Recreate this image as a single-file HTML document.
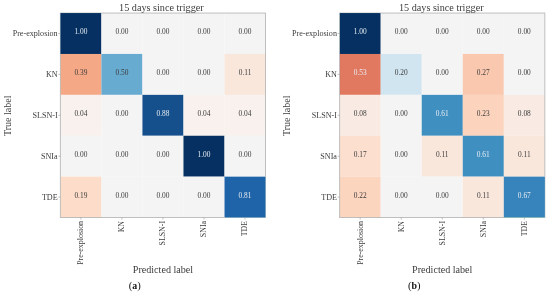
<!DOCTYPE html>
<html><head><meta charset="utf-8"><style>
html,body{margin:0;padding:0;background:#fff;}
body{width:550px;height:295px;overflow:hidden;}
svg{display:block;}
text{font-family:"Liberation Serif",serif;}
.c{font-size:7.4px;text-anchor:middle;}
.yt{font-size:8.1px;text-anchor:end;fill:#3c3c3c;}
.xt{font-size:7.9px;text-anchor:end;fill:#3c3c3c;}
.t{font-size:10.2px;text-anchor:middle;fill:#3c3c3c;}
.xl{font-size:10.1px;text-anchor:middle;fill:#3c3c3c;}
.yl{font-size:10.0px;text-anchor:middle;fill:#3c3c3c;}
.sub{font-size:10.6px;text-anchor:middle;fill:#111;}
</style></head>
<body><svg width="550" height="295" viewBox="0 0 550 295">
<rect x="60.35" y="13.05" width="41.09" height="40.95" fill="#053061"/>
<rect x="101.39" y="13.05" width="41.09" height="40.95" fill="#f4f4f4"/>
<rect x="142.43" y="13.05" width="41.09" height="40.95" fill="#f4f4f4"/>
<rect x="183.47" y="13.05" width="41.09" height="40.95" fill="#f4f4f4"/>
<rect x="224.51" y="13.05" width="41.09" height="40.95" fill="#f4f4f4"/>
<rect x="60.35" y="53.95" width="41.09" height="40.95" fill="#f5a886"/>
<rect x="101.39" y="53.95" width="41.09" height="40.95" fill="#68abd0"/>
<rect x="142.43" y="53.95" width="41.09" height="40.95" fill="#f4f4f4"/>
<rect x="183.47" y="53.95" width="41.09" height="40.95" fill="#f4f4f4"/>
<rect x="224.51" y="53.95" width="41.09" height="40.95" fill="#fae7dc"/>
<rect x="60.35" y="94.85" width="41.09" height="40.95" fill="#f8f1ed"/>
<rect x="101.39" y="94.85" width="41.09" height="40.95" fill="#f4f4f4"/>
<rect x="142.43" y="94.85" width="41.09" height="40.95" fill="#15508d"/>
<rect x="183.47" y="94.85" width="41.09" height="40.95" fill="#f8f1ed"/>
<rect x="224.51" y="94.85" width="41.09" height="40.95" fill="#f8f1ed"/>
<rect x="60.35" y="135.75" width="41.09" height="40.95" fill="#f4f4f4"/>
<rect x="101.39" y="135.75" width="41.09" height="40.95" fill="#f4f4f4"/>
<rect x="142.43" y="135.75" width="41.09" height="40.95" fill="#f4f4f4"/>
<rect x="183.47" y="135.75" width="41.09" height="40.95" fill="#053061"/>
<rect x="224.51" y="135.75" width="41.09" height="40.95" fill="#f4f4f4"/>
<rect x="60.35" y="176.65" width="41.09" height="40.95" fill="#fddcc9"/>
<rect x="101.39" y="176.65" width="41.09" height="40.95" fill="#f4f4f4"/>
<rect x="142.43" y="176.65" width="41.09" height="40.95" fill="#f4f4f4"/>
<rect x="183.47" y="176.65" width="41.09" height="40.95" fill="#f4f4f4"/>
<rect x="224.51" y="176.65" width="41.09" height="40.95" fill="#1f63a8"/>
<text x="80.87" y="34.10" class="c" fill="#e8edf3">1.00</text>
<text x="121.91" y="34.10" class="c" fill="#3c3c3c">0.00</text>
<text x="162.95" y="34.10" class="c" fill="#3c3c3c">0.00</text>
<text x="203.99" y="34.10" class="c" fill="#3c3c3c">0.00</text>
<text x="245.03" y="34.10" class="c" fill="#3c3c3c">0.00</text>
<text x="80.87" y="75.00" class="c" fill="#3c3c3c">0.39</text>
<text x="121.91" y="75.00" class="c" fill="#3c3c3c">0.50</text>
<text x="162.95" y="75.00" class="c" fill="#3c3c3c">0.00</text>
<text x="203.99" y="75.00" class="c" fill="#3c3c3c">0.00</text>
<text x="245.03" y="75.00" class="c" fill="#3c3c3c">0.11</text>
<text x="80.87" y="115.90" class="c" fill="#3c3c3c">0.04</text>
<text x="121.91" y="115.90" class="c" fill="#3c3c3c">0.00</text>
<text x="162.95" y="115.90" class="c" fill="#e8edf3">0.88</text>
<text x="203.99" y="115.90" class="c" fill="#3c3c3c">0.04</text>
<text x="245.03" y="115.90" class="c" fill="#3c3c3c">0.04</text>
<text x="80.87" y="156.80" class="c" fill="#3c3c3c">0.00</text>
<text x="121.91" y="156.80" class="c" fill="#3c3c3c">0.00</text>
<text x="162.95" y="156.80" class="c" fill="#3c3c3c">0.00</text>
<text x="203.99" y="156.80" class="c" fill="#e8edf3">1.00</text>
<text x="245.03" y="156.80" class="c" fill="#3c3c3c">0.00</text>
<text x="80.87" y="197.70" class="c" fill="#3c3c3c">0.19</text>
<text x="121.91" y="197.70" class="c" fill="#3c3c3c">0.00</text>
<text x="162.95" y="197.70" class="c" fill="#3c3c3c">0.00</text>
<text x="203.99" y="197.70" class="c" fill="#3c3c3c">0.00</text>
<text x="245.03" y="197.70" class="c" fill="#e8edf3">0.81</text>
<rect x="60.35" y="13.05" width="205.20" height="204.50" fill="none" stroke="#b8b8b8" stroke-width="0.9" style="mix-blend-mode:darken"/>
<line x1="58.35" y1="33.50" x2="60.35" y2="33.50" stroke="#999" stroke-width="0.6"/>
<text x="57.65" y="36.10" class="yt">Pre-explosion</text>
<line x1="80.87" y1="217.55" x2="80.87" y2="219.55" stroke="#999" stroke-width="0.6"/>
<text transform="translate(83.27,220.95) rotate(-90)" class="xt">Pre-explosion</text>
<line x1="58.35" y1="74.40" x2="60.35" y2="74.40" stroke="#999" stroke-width="0.6"/>
<text x="57.65" y="77.00" class="yt">KN</text>
<line x1="121.91" y1="217.55" x2="121.91" y2="219.55" stroke="#999" stroke-width="0.6"/>
<text transform="translate(124.31,220.95) rotate(-90)" class="xt">KN</text>
<line x1="58.35" y1="115.30" x2="60.35" y2="115.30" stroke="#999" stroke-width="0.6"/>
<text x="57.65" y="117.90" class="yt">SLSN-I</text>
<line x1="162.95" y1="217.55" x2="162.95" y2="219.55" stroke="#999" stroke-width="0.6"/>
<text transform="translate(165.35,220.95) rotate(-90)" class="xt">SLSN-I</text>
<line x1="58.35" y1="156.20" x2="60.35" y2="156.20" stroke="#999" stroke-width="0.6"/>
<text x="57.65" y="158.80" class="yt">SNIa</text>
<line x1="203.99" y1="217.55" x2="203.99" y2="219.55" stroke="#999" stroke-width="0.6"/>
<text transform="translate(206.39,220.95) rotate(-90)" class="xt">SNIa</text>
<line x1="58.35" y1="197.10" x2="60.35" y2="197.10" stroke="#999" stroke-width="0.6"/>
<text x="57.65" y="199.70" class="yt">TDE</text>
<line x1="245.03" y1="217.55" x2="245.03" y2="219.55" stroke="#999" stroke-width="0.6"/>
<text transform="translate(247.43,220.95) rotate(-90)" class="xt">TDE</text>
<text x="161.35" y="10.9" class="t">15 days since trigger</text>
<text x="162.95" y="273.1" class="xl">Predicted label</text>
<text transform="translate(10.6,115.8) rotate(-90)" class="yl">True label</text>
<text x="134.7" y="288.9" class="sub">(<tspan font-weight="bold" font-size="9.9px">a</tspan>)</text>
<rect x="339.65" y="13.05" width="41.09" height="40.95" fill="#053061"/>
<rect x="380.69" y="13.05" width="41.09" height="40.95" fill="#f4f4f4"/>
<rect x="421.73" y="13.05" width="41.09" height="40.95" fill="#f4f4f4"/>
<rect x="462.77" y="13.05" width="41.09" height="40.95" fill="#f4f4f4"/>
<rect x="503.81" y="13.05" width="41.09" height="40.95" fill="#f4f4f4"/>
<rect x="339.65" y="53.95" width="41.09" height="40.95" fill="#e17860"/>
<rect x="380.69" y="53.95" width="41.09" height="40.95" fill="#d1e5f0"/>
<rect x="421.73" y="53.95" width="41.09" height="40.95" fill="#f4f4f4"/>
<rect x="462.77" y="53.95" width="41.09" height="40.95" fill="#fac8af"/>
<rect x="503.81" y="53.95" width="41.09" height="40.95" fill="#f4f4f4"/>
<rect x="339.65" y="94.85" width="41.09" height="40.95" fill="#f9ebe3"/>
<rect x="380.69" y="94.85" width="41.09" height="40.95" fill="#f4f4f4"/>
<rect x="421.73" y="94.85" width="41.09" height="40.95" fill="#408fc1"/>
<rect x="462.77" y="94.85" width="41.09" height="40.95" fill="#fcd3bc"/>
<rect x="503.81" y="94.85" width="41.09" height="40.95" fill="#f9ebe3"/>
<rect x="339.65" y="135.75" width="41.09" height="40.95" fill="#fcdfcf"/>
<rect x="380.69" y="135.75" width="41.09" height="40.95" fill="#f4f4f4"/>
<rect x="421.73" y="135.75" width="41.09" height="40.95" fill="#fae7dc"/>
<rect x="462.77" y="135.75" width="41.09" height="40.95" fill="#408fc1"/>
<rect x="503.81" y="135.75" width="41.09" height="40.95" fill="#fae7dc"/>
<rect x="339.65" y="176.65" width="41.09" height="40.95" fill="#fcd5bf"/>
<rect x="380.69" y="176.65" width="41.09" height="40.95" fill="#f4f4f4"/>
<rect x="421.73" y="176.65" width="41.09" height="40.95" fill="#f4f4f4"/>
<rect x="462.77" y="176.65" width="41.09" height="40.95" fill="#fae7dc"/>
<rect x="503.81" y="176.65" width="41.09" height="40.95" fill="#3783bb"/>
<text x="360.17" y="34.10" class="c" fill="#e8edf3">1.00</text>
<text x="401.21" y="34.10" class="c" fill="#3c3c3c">0.00</text>
<text x="442.25" y="34.10" class="c" fill="#3c3c3c">0.00</text>
<text x="483.29" y="34.10" class="c" fill="#3c3c3c">0.00</text>
<text x="524.33" y="34.10" class="c" fill="#3c3c3c">0.00</text>
<text x="360.17" y="75.00" class="c" fill="#e8edf3">0.53</text>
<text x="401.21" y="75.00" class="c" fill="#3c3c3c">0.20</text>
<text x="442.25" y="75.00" class="c" fill="#3c3c3c">0.00</text>
<text x="483.29" y="75.00" class="c" fill="#3c3c3c">0.27</text>
<text x="524.33" y="75.00" class="c" fill="#3c3c3c">0.00</text>
<text x="360.17" y="115.90" class="c" fill="#3c3c3c">0.08</text>
<text x="401.21" y="115.90" class="c" fill="#3c3c3c">0.00</text>
<text x="442.25" y="115.90" class="c" fill="#e8edf3">0.61</text>
<text x="483.29" y="115.90" class="c" fill="#3c3c3c">0.23</text>
<text x="524.33" y="115.90" class="c" fill="#3c3c3c">0.08</text>
<text x="360.17" y="156.80" class="c" fill="#3c3c3c">0.17</text>
<text x="401.21" y="156.80" class="c" fill="#3c3c3c">0.00</text>
<text x="442.25" y="156.80" class="c" fill="#3c3c3c">0.11</text>
<text x="483.29" y="156.80" class="c" fill="#e8edf3">0.61</text>
<text x="524.33" y="156.80" class="c" fill="#3c3c3c">0.11</text>
<text x="360.17" y="197.70" class="c" fill="#3c3c3c">0.22</text>
<text x="401.21" y="197.70" class="c" fill="#3c3c3c">0.00</text>
<text x="442.25" y="197.70" class="c" fill="#3c3c3c">0.00</text>
<text x="483.29" y="197.70" class="c" fill="#3c3c3c">0.11</text>
<text x="524.33" y="197.70" class="c" fill="#e8edf3">0.67</text>
<rect x="339.65" y="13.05" width="205.20" height="204.50" fill="none" stroke="#b8b8b8" stroke-width="0.9" style="mix-blend-mode:darken"/>
<line x1="337.65" y1="33.50" x2="339.65" y2="33.50" stroke="#999" stroke-width="0.6"/>
<text x="336.95" y="36.10" class="yt">Pre-explosion</text>
<line x1="360.17" y1="217.55" x2="360.17" y2="219.55" stroke="#999" stroke-width="0.6"/>
<text transform="translate(362.57,220.95) rotate(-90)" class="xt">Pre-explosion</text>
<line x1="337.65" y1="74.40" x2="339.65" y2="74.40" stroke="#999" stroke-width="0.6"/>
<text x="336.95" y="77.00" class="yt">KN</text>
<line x1="401.21" y1="217.55" x2="401.21" y2="219.55" stroke="#999" stroke-width="0.6"/>
<text transform="translate(403.61,220.95) rotate(-90)" class="xt">KN</text>
<line x1="337.65" y1="115.30" x2="339.65" y2="115.30" stroke="#999" stroke-width="0.6"/>
<text x="336.95" y="117.90" class="yt">SLSN-I</text>
<line x1="442.25" y1="217.55" x2="442.25" y2="219.55" stroke="#999" stroke-width="0.6"/>
<text transform="translate(444.65,220.95) rotate(-90)" class="xt">SLSN-I</text>
<line x1="337.65" y1="156.20" x2="339.65" y2="156.20" stroke="#999" stroke-width="0.6"/>
<text x="336.95" y="158.80" class="yt">SNIa</text>
<line x1="483.29" y1="217.55" x2="483.29" y2="219.55" stroke="#999" stroke-width="0.6"/>
<text transform="translate(485.69,220.95) rotate(-90)" class="xt">SNIa</text>
<line x1="337.65" y1="197.10" x2="339.65" y2="197.10" stroke="#999" stroke-width="0.6"/>
<text x="336.95" y="199.70" class="yt">TDE</text>
<line x1="524.33" y1="217.55" x2="524.33" y2="219.55" stroke="#999" stroke-width="0.6"/>
<text transform="translate(526.73,220.95) rotate(-90)" class="xt">TDE</text>
<text x="441.25" y="10.9" class="t">15 days since trigger</text>
<text x="442.25" y="273.1" class="xl">Predicted label</text>
<text transform="translate(289.9,115.8) rotate(-90)" class="yl">True label</text>
<text x="414.2" y="288.9" class="sub">(<tspan font-weight="bold" font-size="9.9px">b</tspan>)</text>
</svg></body></html>
